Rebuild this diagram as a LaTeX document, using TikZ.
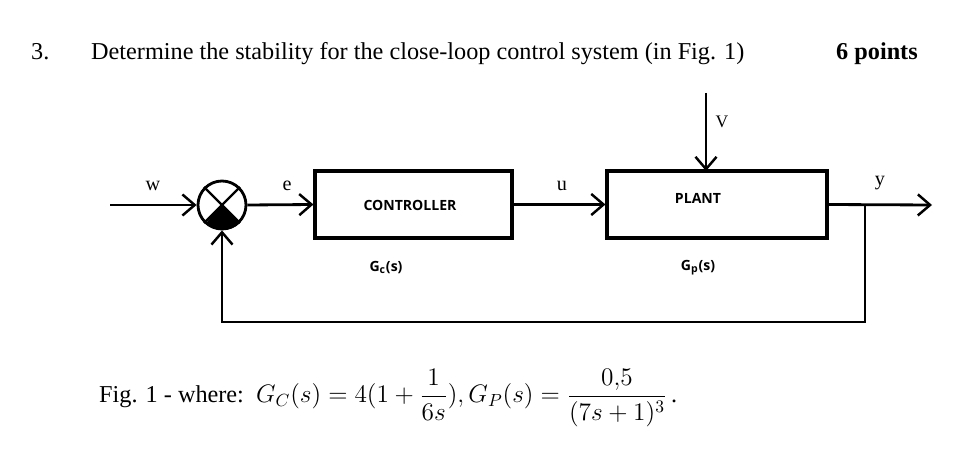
\documentclass[tikz,border=0pt]{standalone}
\usepackage{amsmath}
\usepackage{fontspec}
\setmainfont{Liberation Serif}
\newfontfamily\sansf{Open Sans}
\usetikzlibrary{arrows.meta}
\begin{document}
\begin{tikzpicture}[x=0.02cm,y=-0.02cm,
  ln/.style={line width=1.6pt,-{Straight Barb[length=7pt,width=12pt,line width=1.4pt]}},
  blk/.style={draw,line width=1.8pt,minimum width=3.94cm,minimum height=1.34cm},
  lbl/.style={font=\fontsize{13.8}{16}\selectfont},
  sm/.style={font=\fontsize{11.5}{13}\selectfont},
  sl/.style={font=\sansf\fontsize{8}{10}\selectfont\bfseries}]
\useasboundingbox (0,0) rectangle (969,469);
\node[lbl,anchor=base west] (num) at (25,60) {3.};
\node[lbl,anchor=base west] (title) at (85,60) {Determine the stability for the close-loop control system (in Fig. 1)};
\node[lbl,anchor=base west,font=\fontsize{13.8}{16}\selectfont\bfseries] (pts) at (830,60) {6 points};
\coordinate (in) at (110,205);
\node[circle,draw,line width=1.6pt,minimum size=0.96cm,inner sep=0] (sum) at (222,205) {};
\fill (sum.center) -- (sum.-45) arc (-45:-135:0.48cm) -- cycle;
\draw[line width=1.4pt] (sum.45)--(sum.-135) (sum.135)--(sum.-45);
\node[blk,minimum width=3.94cm] (ctrl) at (413.5,204.5) {};
\node[sl] (ct) at (410,205) {CONTROLLER};
\node[blk,minimum width=4.4cm] (plant) at (717,204.5) {};
\node[sl] (pt) at (698,198) {PLANT};
\node[sl] (gc) at (386,268) {G\textsubscript{c}(s)};
\node[sl] (gp) at (698,268) {G\textsubscript{p}(s)};
\coordinate (vtop) at (706,93);
\coordinate (vbot) at (706,171);
\coordinate (out) at (932,205);
\coordinate (br) at (865,205);
\coordinate (c1) at (865,322);
\coordinate (c2) at (222,322);
\draw[ln] (in) -- (sum.west);
\draw[ln] (sum.east) -- (ctrl.west);
\draw[ln] (ctrl.east) -- (plant.west);
\draw[ln] (vtop) -- (vbot);
\draw[ln] (plant.east) -- (out);
\draw[ln] (br) -- (c1) -- (c2) -- (sum.south);
\node[sm] (w) at (153,186) {w};
\node[sm] (e) at (287,186) {e};
\node[sm] (u) at (562,186) {u};
\node[sm,font=\fontsize{10}{12}\selectfont] (v) at (722,122) {V};
\node[sm] (y) at (880,183) {y};
\node[lbl,anchor=west] (f) at (93,398) {Fig. 1 - where:\ \ $G_C(s)=4(1+\dfrac{1}{6s}),G_P(s)=\dfrac{0{,}5}{(7s+1)^3}$\,.};
\end{tikzpicture}
\end{document}
